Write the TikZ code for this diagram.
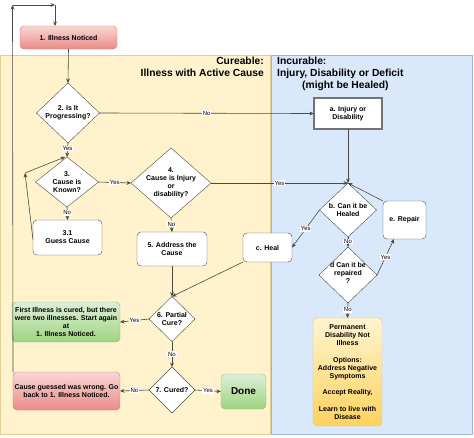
\documentclass[tikz,border=0pt]{standalone}
\usepackage{fontspec}
\setmainfont{Liberation Sans}
\usetikzlibrary{shapes.geometric,arrows.meta}
\definecolor{yfill}{HTML}{FFF2CC}
\definecolor{yline}{HTML}{E3CE94}
\definecolor{bfill}{HTML}{DAE8FC}
\definecolor{bline}{HTML}{9DB5D6}
\definecolor{rtop}{HTML}{F9D6D4}
\definecolor{rbot}{HTML}{EA8C88}
\definecolor{rline}{HTML}{C87F7C}
\definecolor{gtop}{HTML}{DDEFD8}
\definecolor{gbot}{HTML}{9ED47F}
\definecolor{gline}{HTML}{8DBB73}
\definecolor{otop}{HTML}{FFF4D0}
\definecolor{obot}{HTML}{FFD25E}
\definecolor{oline}{HTML}{E0BE6A}
\definecolor{lncol}{HTML}{4A4A40}
\newcommand{\myNodeFont}{\bfseries\fontsize{7}{8}\selectfont}
\newcommand{\myLblFont}{\fontsize{6}{7}\selectfont}
\newcommand{\myTitleFont}{\bfseries\fontsize{10.3}{12}\selectfont}
\begin{document}
\begin{tikzpicture}[x=1pt,y=-1pt,
  box/.style={draw=lncol, fill=white, rounded corners=4pt, align=center, font=\myNodeFont, inner sep=1pt, outer sep=0pt},
  dia/.style={draw=lncol, fill=white, diamond, inner sep=0pt, outer sep=0pt},
  txt/.style={align=center, font=\myNodeFont, inner sep=0pt},
  lbl/.style={fill=white, font=\myLblFont, inner sep=0.8pt},
  ln/.style={draw=lncol, line width=0.6pt},
  arr/.style={ln, -{Stealth[length=4.5pt,width=3.8pt]}},
  redbox/.style={box, draw=rline, top color=rtop, bottom color=rbot},
  greenbox/.style={box, draw=gline, top color=gtop, bottom color=gbot},
  orangebox/.style={box, draw=oline, top color=otop, bottom color=obot}
]
\useasboundingbox (0,0) rectangle (474,437);
% regions
\path[fill=yfill, draw=yline, line width=0.8pt] (0,55) rectangle (270.5,434);
\path[fill=bfill, draw=bline, line width=0.8pt] (271.5,55) rectangle (472,434);
\node[font=\myTitleFont, align=right, anchor=north east, inner sep=0pt] (ttlA) at (264,57) {Cureable:\\Illness with Active Cause};
\node[font=\myTitleFont, align=left, anchor=north west, inner sep=0pt] (ttlB) at (277,57) {Incurable:\\Injury, Disability or Deficit\\\hspace*{25pt}(might be Healed)};

% nodes
\node[redbox, minimum width=97pt, minimum height=23pt] (n1) at (68.5,37.5) {1. Illness Noticed};
\node[dia, minimum width=63pt, minimum height=60pt] (d2) at (68,113) {};
\node[txt] (d2t) at (d2) {2. Is It\\Progressing?};
\node[dia, minimum width=63pt, minimum height=50pt] (d3) at (67,182) {};
\node[txt] (d3t) at (d3) {3.\\Cause is\\Known?};
\node[box, minimum width=69pt, minimum height=35pt] (n31) at (67.5,237.5) {3.1\\Guess Cause};
\node[dia, minimum width=80pt, minimum height=70pt] (d4) at (171,183) {};
\node[txt] (d4t) at (d4) {4.\\Cause is Injury\\or\\disability?};
\node[box, minimum width=70pt, minimum height=34pt] (n5) at (172,249) {5. Address the\\Cause};
\node[box, rounded corners=0pt, draw=black!55, line width=2pt, minimum width=68pt, minimum height=31pt] (na) at (348,113.5) {a. Injury or\\Disability};
\node[dia, minimum width=57pt, minimum height=54pt] (db) at (348,210) {};
\node[txt] (dbt) at (db) {b. Can it be\\Healed};
\node[box, minimum width=49pt, minimum height=29pt] (nc) at (267.5,247.5) {c. Heal};
\node[dia, minimum width=58pt, minimum height=56pt] (dd) at (348,275) {};
\node[txt] (ddt) at ([yshift=2pt]dd.center) {d Can it be\\repaired\\?};
\node[box, minimum width=43pt, minimum height=38pt] (ne) at (404.5,220) {e. Repair};
\node[orangebox, minimum width=69pt, minimum height=108pt, font=\bfseries\fontsize{7}{8.2}\selectfont] (np) at (347.5,372)
  {Permanent\\Disability Not\\Illness\\[8.2pt]Options:\\Address Negative\\Symptoms\\[8.2pt]Accept Reality,\\[8.2pt]Learn to live with\\Disease};
\node[dia, minimum width=46pt, minimum height=45pt] (d6) at (172,319) {};
\node[txt] (d6t) at (d6) {6. Partial\\Cure?};
\node[greenbox, minimum width=108pt, minimum height=40pt] (ng) at (66,322) {First Illness is cured, but there\\were two illnesses. Start again\\at\\1. Illness Noticed.};
\node[dia, minimum width=46pt, minimum height=46pt] (d7) at (172,390) {};
\node[txt] (d7t) at (d7) {7. Cured?};
\node[redbox, minimum width=107pt, minimum height=38pt] (nr) at (66.5,391) {Cause guessed was wrong. Go\\back to 1. Illness Noticed.};
\node[greenbox, minimum width=45pt, minimum height=35pt, font=\bfseries\fontsize{10}{12}\selectfont] (nd) at (243.5,391.5) {Done};

% helper coordinates
\coordinate (fbA) at (12.5,5);
\coordinate (fbB) at (55,5);
\coordinate (gA) at (25,173);
\coordinate (neIn) at (394,239);

% connectors
\draw[arr] (nr.north west) -- (fbA);
\draw[arr] (fbA) -- (fbB);
\draw[arr] (fbB) -- (fbB |- n1.north);
\draw[arr] (n1.south) -- (d2.north);
\draw[arr] (d2.east) -- node[lbl]{No} (na.west);
\draw[arr] (d2.south) -- node[lbl, pos=0.4]{Yes} (d3.north);
\draw[arr] (d3.east) -- node[lbl]{Yes} (d4.west);
\draw[arr] (d3.south) -- node[lbl, pos=0.45]{No} (n31.north);
\draw[arr] ([yshift=-2pt]n31.west) -- (gA);
\draw[arr] (gA) -- ([xshift=-2pt]d3.north);
\draw[arr] (d4.south) -- node[lbl, pos=0.45]{No} (n5.north);
\draw[arr] (d4.east) -- node[lbl]{Yes} (db.north);
\draw[arr] (na.south) -- (db.north);
\draw[arr] (ne.north west) -- (db.north);
\draw[arr] (db.west) -- node[lbl]{Yes} (nc.east);
\draw[arr] (db.south) -- node[lbl, pos=0.45]{No} (dd.north);
\draw[arr] (dd.east) -- node[lbl]{Yes} (neIn);
\draw[arr] (dd.south) -- node[lbl, pos=0.45]{No} (np.north);
\draw[arr] (n5.south) -- (d6.north);
\draw[arr] (nc.south west) -- (d6.north);
\draw[arr] (d6.west) -- node[lbl]{Yes} (ng.east);
\draw[arr] (d6.south) -- node[lbl]{No} (d7.north);
\draw[arr] (d7.west) -- node[lbl]{No} (nr.east);
\draw[arr] (d7.east) -- node[lbl]{Yes} (nd.west);
\end{tikzpicture}
\end{document}
